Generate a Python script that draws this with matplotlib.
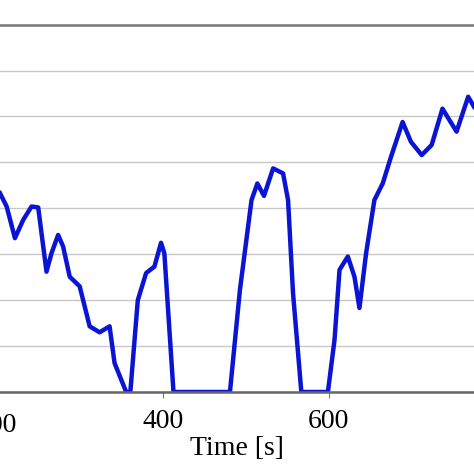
import matplotlib.pyplot as plt

# speed profile
time_s = [204, 212, 222, 232, 242, 250, 260, 266, 274, 280, 288, 300, 312, 324, 336,
          342, 356, 361, 370, 380, 390, 398, 402, 413, 481, 493, 507, 514, 522, 533,
          545, 551, 557, 567, 599, 607, 613, 623, 631, 637, 645, 655, 665, 675, 689,
          699, 712, 724, 737, 754, 768, 775]
speed = [43.3, 40.4, 33.5, 37.5, 40.4, 40.2, 26.2, 30.2, 34.2, 31.7, 25.1, 23.0, 14.3,
         13.0, 14.3, 6.3, 0, 0, 20.0, 25.9, 27.3, 32.5, 30.2, 0, 0, 22.2, 41.8, 45.4,
         42.7, 48.7, 47.6, 41.8, 21.5, 0, 0, 11.4, 26.6, 29.5, 25.1, 18.3, 30.2, 41.8,
         45.4, 51.2, 58.8, 54.5, 51.6, 53.8, 61.7, 56.7, 64.3, 62.1]
xticks = [400, 600]

fig = plt.figure(figsize=(4.74, 4.74), dpi=100)
ax = fig.add_axes([0, 0.173, 1, 0.775])
ax.plot(time_s, speed, color='#0a14d2', linewidth=3.2, solid_joinstyle='round')
ax.set_xlim(204, 775)
ax.set_ylim(0, 80)
ax.set_yticks(range(0, 81, 10))
ax.yaxis.grid(True, color='#c8c8c8', linewidth=1)
ax.tick_params(axis='y', left=False, labelleft=False)
ax.set_xticks(xticks)
ax.set_xticklabels([str(t) for t in xticks], family='Liberation Serif', fontsize=20)
ax.tick_params(axis='x', length=4, color='#777777', pad=8)
for s in ['left', 'right']:
    ax.spines[s].set_visible(False)
ax.spines['top'].set_color('#777777')
ax.spines['top'].set_linewidth(1.8)
ax.spines['bottom'].set_color('#666666')
ax.spines['bottom'].set_linewidth(1.8)
ax.set_axisbelow(True)
# partially visible left tick label (200), cut by the figure edge as in the reference
ax.text(200, -7.3, '200', family='Liberation Serif', fontsize=20, ha='center', va='center', clip_on=False)
ax.set_xlabel('Time [s]', family='Liberation Serif', fontsize=20, labelpad=2)
fig.savefig('out.png', dpi=100)
